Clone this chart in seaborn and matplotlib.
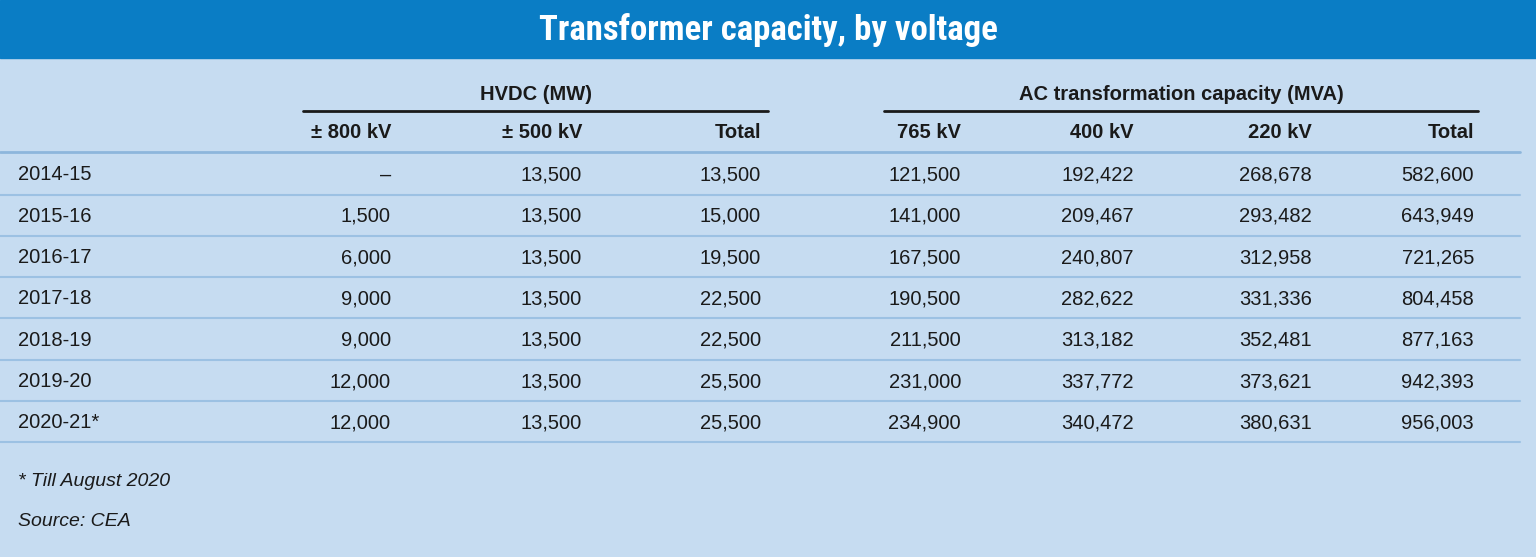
import matplotlib
matplotlib.use("Agg")
import matplotlib.pyplot as plt
import seaborn as sns

sns.set_theme(style="white")
plt.rcParams['font.family'] = ['Liberation Sans', 'Arimo', 'Roboto', 'DejaVu Sans']

title = "Transformer capacity, by voltage"
group_labels = ["HVDC (MW)", "AC transformation capacity (MVA)"]
col_labels = ["± 800 kV", "± 500 kV", "Total", "765 kV", "400 kV", "220 kV", "Total"]
years = ["2014-15", "2015-16", "2016-17", "2017-18", "2018-19", "2019-20", "2020-21*"]
hvdc_800 = ["–", "1,500", "6,000", "9,000", "9,000", "12,000", "12,000"]
hvdc_500 = ["13,500"] * 7
hvdc_total = ["13,500", "15,000", "19,500", "22,500", "22,500", "25,500", "25,500"]
ac_765 = ["121,500", "141,000", "167,500", "190,500", "211,500", "231,000", "234,900"]
ac_400 = ["192,422", "209,467", "240,807", "282,622", "313,182", "337,772", "340,472"]
ac_220 = ["268,678", "293,482", "312,958", "331,336", "352,481", "373,621", "380,631"]
ac_total = ["582,600", "643,949", "721,265", "804,458", "877,163", "942,393", "956,003"]
notes = ["* Till August 2020", "Source: CEA"]

W, H = 1536, 557
fig = plt.figure(figsize=(W/100, H/100), dpi=100)
fig.patch.set_facecolor("#c6dcf1")
ax = fig.add_axes([0, 0, 1, 1])
ax.set_xlim(0, W); ax.set_ylim(H, 0); ax.axis("off")

ax.add_patch(plt.Rectangle((0, 0), W, 58, color="#0a7dc5"))
ax.text(W/2, 30, title, color="white", fontsize=25, fontweight="bold",
        family=["Liberation Sans Narrow", "Roboto Condensed", "Roboto", "DejaVu Sans"],
        ha="center", va="center")

txt = "#1a1a1a"
for lab, x0, x1 in [(group_labels[0], 303, 768), (group_labels[1], 884, 1478)]:
    ax.text((x0 + x1)/2, 94, lab, fontsize=14.5, fontweight="bold", ha="center", va="center", color=txt)
    ax.plot([x0, x1], [111, 111], color="#1a1a1a", lw=2)

col_x = [391, 582, 761, 961, 1134, 1312, 1474]
for x, lab in zip(col_x, col_labels):
    ax.text(x, 133, lab, fontsize=14.5, fontweight="bold", ha="right", va="center", color=txt)

ax.plot([0, 1520], [152, 152], color="#8db6dc", lw=2)
cols = [hvdc_800, hvdc_500, hvdc_total, ac_765, ac_400, ac_220, ac_total]
row_h = 41.3
for i, yr in enumerate(years):
    yc = 175 + i*row_h
    ax.text(18, yc, yr, fontsize=14.5, ha="left", va="center", color=txt)
    for x, c in zip(col_x, cols):
        ax.text(x, yc, c[i], fontsize=14.5, ha="right", va="center", color=txt)
    ax.plot([0, 1520], [yc + 19.5, yc + 19.5], color="#9cc1e3", lw=1.5)

ax.text(18, 481, notes[0], fontsize=14, style="italic", ha="left", va="center", color=txt)
ax.text(18, 521, notes[1], fontsize=14, style="italic", ha="left", va="center", color=txt)

fig.savefig("out.png", dpi=100, facecolor=fig.get_facecolor())
